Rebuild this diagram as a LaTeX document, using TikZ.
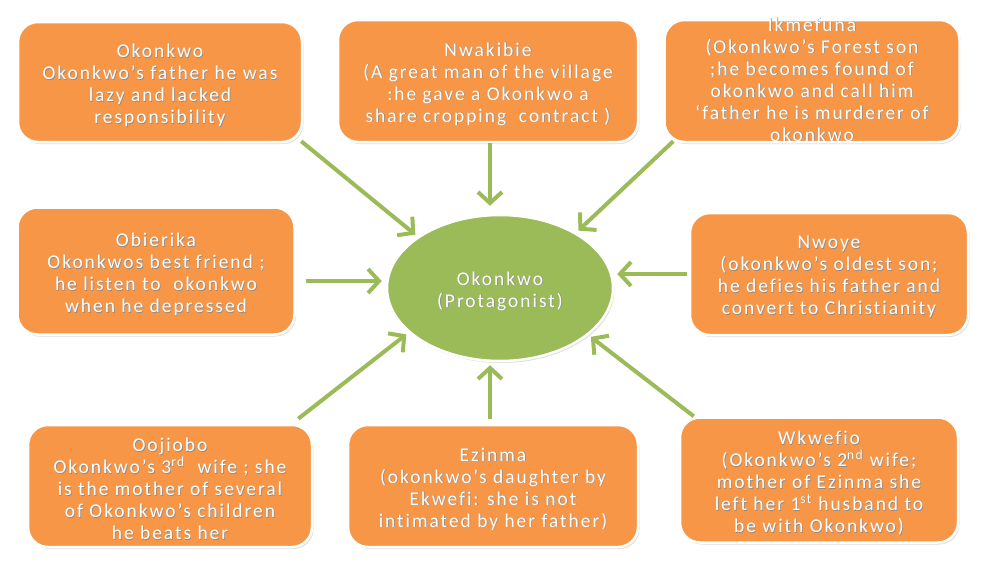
\documentclass[tikz,border=0pt]{standalone}
\usepackage{fontspec}
\setmainfont{Carlito}[LetterSpace=10,Ligatures={NoCommon}]
\usetikzlibrary{arrows.meta,shadows,shapes.geometric}
\definecolor{boxorange}{HTML}{F79646}
\definecolor{leafgreen}{HTML}{9BBB59}
\newcommand\shtxt[2]{\raisebox{-3.5pt}[\height][\depth]{\makebox[0pt][l]{\raisebox{-0.7pt}{\hspace{0.7pt}\color{black!45}\parbox[c]{#1}{\centering #2}}}\parbox[c]{#1}{\centering #2}}}
\tikzset{
  obox/.style={rounded corners=20pt, fill=boxorange, draw=white, line width=2.5pt,
    drop shadow={opacity=0.25,shadow xshift=1.5pt,shadow yshift=-2pt},
    text=white, align=center, inner sep=0pt,
    font=\fontsize{19.5}{22}\selectfont},
  cell/.style={ellipse, fill=leafgreen, draw=white, line width=2.5pt,
    drop shadow={opacity=0.25,shadow xshift=1.5pt,shadow yshift=-2pt},
    minimum width=226pt, minimum height=146pt, inner sep=0pt,
    text=white, align=center, font=\fontsize{19.5}{22}\selectfont},
  arr/.style={draw=leafgreen, line width=4pt,
    -{Straight Barb[length=11pt,width=24pt]}, shorten >=3pt}
}
\begin{document}
\begin{tikzpicture}[x=1pt,y=-1pt]
\useasboundingbox (0,0) rectangle (986,563);
\node[obox, minimum width=284pt, minimum height=120pt] (b1) at (160,82)
  {\shtxt{276pt}{Okonkwo\\Okonkwo’s father he was\\lazy and lacked\\responsibility}};
\node[obox, minimum width=300pt, minimum height=122pt] (b2) at (488,81)
  {\shtxt{292pt}{Nwakibie\\(A great man of the village\\:he gave a Okonkwo a\\share cropping\ \ contract )}};
\node[obox, minimum width=295pt, minimum height=122pt] (b3) at (812,81)
  {\smash{\shtxt{290pt}{Ikmefuna\\(Okonkwo’s Forest son\\;he becomes found of\\okonkwo and call him\\‘father he is murderer of\\okonkwo}}};
\node[obox, minimum width=277pt, minimum height=127pt] (b4) at (156,271)
  {\shtxt{270pt}{Obierika\\Okonkwos best friend ;\\he listen to\ \ okonkwo\\when he depressed}};
\node[obox, minimum width=278pt, minimum height=122pt] (b5) at (829,274)
  {\shtxt{270pt}{Nwoye\\(okonkwo’s oldest son;\\he defies his father and\\convert to Christianity}};
\node[obox, minimum width=284pt, minimum height=122pt] (b6) at (170,486)
  {\shtxt{276pt}{Oojiobo\\Okonkwo’s 3\textsuperscript{rd}\ \ wife ; she\\is the mother of several\\of Okonkwo’s children\\he beats her}};
\node[obox, minimum width=290pt, minimum height=122pt] (b7) at (493,486)
  {\shtxt{282pt}{Ezinma\\(okonkwo’s daughter by\\Ekwefi: she is not\\intimated by her father)}};
\node[obox, minimum width=278pt, minimum height=125pt] (b8) at (819,480)
  {\shtxt{270pt}{Wkwefio\\(Okonkwo’s 2\textsuperscript{nd} wife;\\mother of Ezinma she\\left her 1\textsuperscript{st} husband to\\be with Okonkwo)}};
\node[cell] (c) at (500,288) {\shtxt{135pt}{Okonkwo\\(Protagonist)}};

\draw[arr] ([xshift=-2pt,yshift=2pt]b1.south east) -- (c.148);
\draw[arr] ([xshift=2pt]b2.south) -- ([xshift=2pt,yshift=5pt]b2.south |- c.north);
\draw[arr] ([xshift=10pt,yshift=2pt]b3.south west) -- (c.36);
\draw[arr] ([xshift=10pt,yshift=-10pt]b4.east) -- ([xshift=-1pt,yshift=7pt]c.west);
\draw[arr] ([xshift=-2pt]b5.west) -- (c.east |- b5.west);
\draw[arr] ([xshift=-15pt,yshift=5pt]b6.north east) -- (c.206);
\draw[arr] ([xshift=-3pt,yshift=5pt]b7.north) -- ([xshift=-3pt]b7.north |- c.south);
\draw[arr] ([xshift=15pt]b8.north west) -- (c.332);
\end{tikzpicture}
\end{document}
